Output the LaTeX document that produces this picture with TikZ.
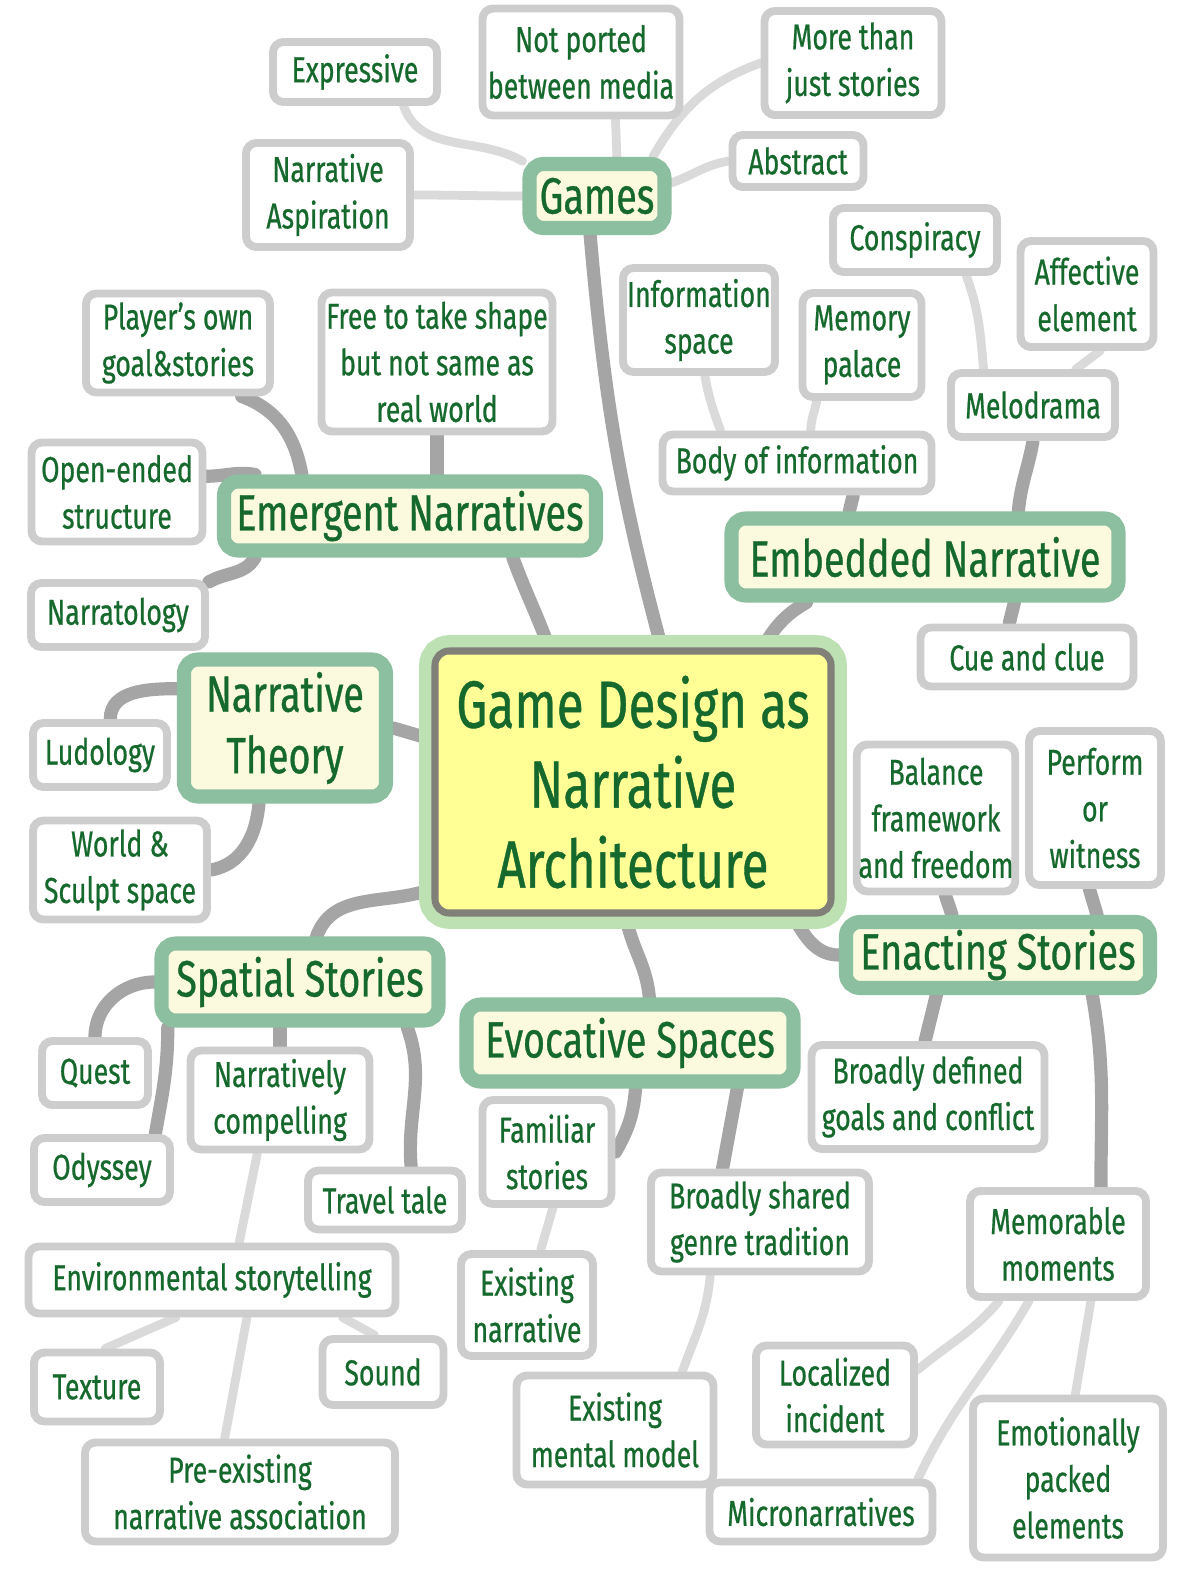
\documentclass[tikz,border=0pt]{standalone}
\usepackage{fontspec}
\setmainfont{Fira Sans}[FakeStretch=0.74, FakeBold=0.6]
\usetikzlibrary{backgrounds}

\definecolor{txtgreen}{RGB}{22,105,44}
\definecolor{leafgray}{RGB}{205,205,205}
\definecolor{branchline}{RGB}{140,190,160}
\definecolor{branchfill}{RGB}{251,250,222}
\definecolor{corefill}{RGB}{255,255,150}
\definecolor{coreline}{RGB}{128,128,120}
\definecolor{halo}{RGB}{190,225,180}
\definecolor{linkdark}{RGB}{165,165,165}
\definecolor{linklight}{RGB}{218,218,218}

\newcommand\leaffont{\fontsize{20.5}{26.5}\selectfont}
\newcommand\branchfont{\fontsize{29}{35}\selectfont}
\newcommand\corefont{\fontsize{38}{45.5}\selectfont}

\begin{document}
\begin{tikzpicture}[
    x={(0.02cm,0)}, y={(0,-0.02cm)},
    leaf/.style 2 args={
      draw=leafgray, line width=4.5pt, fill=white,
      rounded corners=6pt, text=txtgreen, align=center,
      inner sep=1pt, font=\leaffont,
      minimum width=#1*0.02cm, minimum height=#2*0.02cm
    },
    branch/.style 2 args={
      draw=branchline, line width=8pt, fill=branchfill,
      rounded corners=8pt, text=txtgreen, align=center,
      inner sep=1pt, font=\branchfont,
      minimum width=#1*0.02cm, minimum height=#2*0.02cm
    },
    core/.style={
      draw=coreline, line width=4pt, fill=corefill,
      preaction={draw=halo, line width=18pt},
      rounded corners=8pt, text=txtgreen, align=center,
      font=\corefont,
      minimum width=396*0.02cm, minimum height=262*0.02cm
    },
    link/.style={draw=linkdark, line width=7.5pt, line cap=round},
    twig/.style={draw=linklight, line width=5pt, line cap=round}
  ]

  \useasboundingbox (0,0) rectangle (1200,1575);

  % games
  \node[leaf={164}{60}] (expr) at (355,72) {Expressive};
  \node[leaf={197}{107}] (ported) at (581,62) {Not ported\\between media};
  \node[leaf={177}{104}] (morethan) at (853,63) {More than\\just stories};
  \node[leaf={131}{52}] (abstr) at (798,161) {Abstract};
  \node[leaf={164}{104}] (aspir) at (328,195) {Narrative\\Aspiration};
  \node[branch={135}{64}] (games) at (597,196) {Games};

  % emergent narratives
  \node[leaf={184}{99}] (player) at (178,343) {Player’s own\\goal\&stories};
  \node[leaf={231}{139}] (freeshape) at (437,362) {Free to take shape\\but not same as\\real world};
  \node[leaf={171}{99}] (openend) at (117,492) {Open-ended\\structure};
  \node[leaf={174}{64}] (narratol) at (118,615) {Narratology};
  \node[branch={372}{69}] (emerg) at (410,516) {Emergent Narratives};

  % embedded narrative
  \node[leaf={152}{104}] (infospace) at (699,320) {Information\\space};
  \node[leaf={119}{104}] (mempal) at (862,345) {Memory\\palace};
  \node[leaf={164}{64}] (consp) at (915,240) {Conspiracy};
  \node[leaf={133}{106}] (affect) at (1087,294) {Affective\\element};
  \node[leaf={164}{64}] (melo) at (1033,405) {Melodrama};
  \node[leaf={269}{57}] (bodyinfo) at (797,463) {Body of information};
  \node[branch={387}{77}] (embed) at (925,557) {Embedded Narrative};
  \node[leaf={213}{59}] (cue) at (1027,657) {Cue and clue};

  % narrative theory
  \node[branch={202}{137}] (theory) at (285,728) {Narrative\\Theory};
  \node[leaf={134}{64}] (ludol) at (100,755) {Ludology};
  \node[leaf={174}{99}] (world) at (120,870) {World \&\\Sculpt space};

  \node[core] (core) at (633,782) {Game Design as\\Narrative\\Architecture};

  % spatial stories
  \node[branch={277}{77}] (spatial) at (300,982) {Spatial Stories};
  \node[leaf={106}{64}] (quest) at (95,1073) {Quest};
  \node[leaf={136}{64}] (odys) at (102,1170) {Odyssey};
  \node[leaf={179}{99}] (compel) at (280,1100) {Narratively\\compelling};
  \node[leaf={154}{59}] (travel) at (385,1200) {Travel tale};
  \node[leaf={367}{67}] (envst) at (212,1280) {Environmental storytelling};
  \node[leaf={126}{69}] (texture) at (97,1387) {Texture};
  \node[leaf={121}{66}] (sound) at (383,1372) {Sound};
  \node[leaf={310}{99}] (preex) at (240,1492) {Pre-existing\\narrative association};

  % evocative spaces
  \node[branch={327}{77}] (evoc) at (630,1043) {Evocative Spaces};
  \node[leaf={129}{104}] (famil) at (547,1152) {Familiar\\stories};
  \node[leaf={132}{102}] (existn) at (527,1305) {Existing\\narrative};
  \node[leaf={218}{99}] (genre) at (760,1222) {Broadly shared\\genre tradition};
  \node[leaf={197}{109}] (mental) at (615,1430) {Existing\\mental model};

  % enacting stories
  \node[branch={304}{66}] (enact) at (998,955) {Enacting Stories};
  \node[leaf={151}{147}] (balance) at (936,818) {Balance\\framework\\and freedom};
  \node[leaf={132}{154}] (perform) at (1095,808) {Perform\\or\\witness};
  \node[leaf={233}{104}] (goals) at (928,1097) {Broadly defined\\goals and conflict};
  \node[leaf={176}{106}] (memor) at (1058,1244) {Memorable\\moments};
  \node[leaf={158}{99}] (local) at (835,1395) {Localized\\incident};
  \node[leaf={223}{59}] (micro) at (821,1512) {Micronarratives};
  \node[leaf={190}{159}] (emot) at (1068,1478) {Emotionally\\packed\\elements};

  \begin{pgfonlayer}{background}
    \fill[white] (0,0) rectangle (1200,1575);

    \draw[twig] (games.west) to[out=180,in=0] (aspir.east);
    \draw[twig] (expr.-35) to[out=-70,in=150] (games.155);
    \draw[twig] (ported.-59) -- (games.63);
    \draw[twig] (games.35) to[out=60,in=200] (morethan.west);
    \draw[twig] (games.10) to[out=20,in=190] (abstr.west);
    \draw[link] (games.-100) to[out=-85,in=105] (core.78);

    \draw[link] (player.-40) to[out=-20,in=100] (emerg.159);
    \draw[link] (freeshape.south) -- (freeshape.south |- emerg.north);
    \draw[link] (openend.10) to[out=0,in=170] (emerg.165);
    \draw[link] (narratol.20) to[out=30,in=-120] (emerg.-165);
    \draw[link] (emerg.-22) to[out=-70,in=110] (core.122);

    \draw[twig] (infospace.-84) to[out=-80,in=110] (bodyinfo.157);
    \draw[twig] (mempal.-129) to[out=-100,in=90] (bodyinfo.67);
    \draw[twig] (consp.-35) to[out=-70,in=95] (melo.144);
    \draw[twig] (affect.-77) -- (melo.40);
    \draw[link] (bodyinfo.-30) -- (embed.149);
    \draw[link] (melo.south) to[out=-100,in=85] (embed.26);
    \draw[link] (embed.-27) -- (cue.118);
    \draw[link] (embed.-159) to[out=-150,in=60] (core.46);

    \draw[link] (ludol.74) to[out=90,in=180] (theory.160);
    \draw[link] (world.east) to[out=10,in=-95] (theory.-109);
    \draw[link] (theory.east) -- (core.168);

    \draw[link] (core.-152) to[out=-160,in=70] (spatial.70);
    \draw[link] (spatial.west) to[out=180,in=90] (quest.north);
    \draw[link] (spatial.-161) to[out=-90,in=80] (odys.34);
    \draw[link] (spatial.south -| compel.north) -- (compel.north);
    \draw[link] (spatial.-23) to[out=-70,in=95] (travel.52);
    \draw[twig] (compel.-113) -- (envst.54);
    \draw[twig] (envst.-134) -- (texture.78);
    \draw[twig] (envst.-16) -- (sound.103);
    \draw[twig] (envst.-47) -- (preex.106);

    \draw[link] (core.-93) to[out=-80,in=95] (evoc.67);
    \draw[link] (evoc.-83) to[out=-95,in=60] (famil.east);
    \draw[link] (evoc.-23) -- (genre.125);
    \draw[twig] (famil.-84) -- (existn.76);
    \draw[twig] (genre.-133) to[out=-95,in=70] (mental.41);

    \draw[link] (core.-40) to[out=-60,in=180] (enact.west);
    \draw[link] (balance.-83) -- (enact.139);
    \draw[link] (perform.-94) -- (enact.22);
    \draw[link] (enact.-147) -- (goals.93);
    \draw[link] (enact.-23) to[out=-80,in=90] (memor.53);
    \draw[twig] (memor.-136) to[out=-130,in=40] (local.17);
    \draw[twig] (memor.-117) to[out=-120,in=65] (micro.19);
    \draw[twig] (memor.-60) -- (emot.85);
  \end{pgfonlayer}

\end{tikzpicture}
\end{document}
